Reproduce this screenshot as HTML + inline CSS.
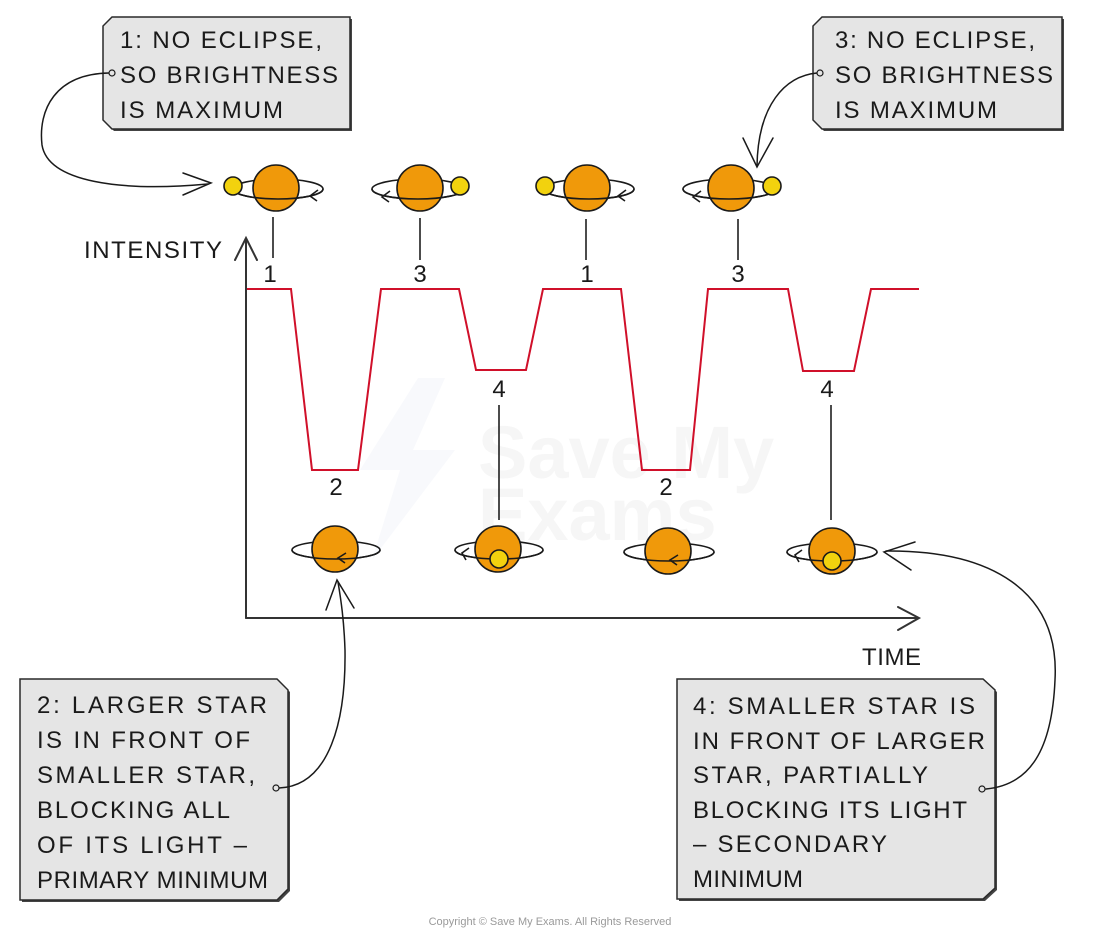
<!DOCTYPE html>
<html><head><meta charset="utf-8"><style>
html,body{margin:0;padding:0;background:#fff;}
svg{display:block;}
text{font-family:"Liberation Sans",sans-serif;fill:#1a1a1a;}
</style></head><body>
<svg width="1100" height="938" viewBox="0 0 1100 938" xmlns="http://www.w3.org/2000/svg">
<!-- watermark -->
<polygon points="418,378 360,470 400,470 372,560 455,450 413,450 445,378" fill="#f8f9fc"/>
<text x="478" y="478" font-size="74" font-weight="bold" style="fill:#f6f6f6">Save My</text>
<text x="478" y="540" font-size="74" font-weight="bold" style="fill:#f6f6f6">Exams</text>

<!-- axes -->
<g stroke="#333" stroke-width="2" fill="none" stroke-linecap="round">
<line x1="246" y1="240" x2="246" y2="618"/>
<polyline points="235,260 246,238 257,260"/>
<line x1="246" y1="618" x2="918" y2="618"/>
<polyline points="898,607 919,618 898,630"/>
</g>
<text x="84" y="258" font-size="24" textLength="138" lengthAdjust="spacing">INTENSITY</text>
<text x="862" y="665" font-size="24" textLength="59" lengthAdjust="spacing">TIME</text>

<!-- light curve -->
<polyline fill="none" stroke="#d0102a" stroke-width="2" points="247,289 291,289 312,470 358,470 381,289 459,289 476,370 526,370 543,289 621,289 642,470 690,470 708,289 788,289 803,371 854,371 871,289 919,289"/>

<!-- connector lines to numbers -->
<g stroke="#111" stroke-width="1.5">
<line x1="273" y1="217" x2="273" y2="258"/>
<line x1="420" y1="218" x2="420" y2="260"/>
<line x1="586" y1="219" x2="586" y2="260"/>
<line x1="738" y1="219" x2="738" y2="260"/>
<line x1="499" y1="405" x2="499" y2="520"/>
<line x1="831" y1="405" x2="831" y2="520"/>
</g>
<g font-size="24" text-anchor="middle">
<text x="270" y="282">1</text>
<text x="420" y="282">3</text>
<text x="587" y="282">1</text>
<text x="738" y="282">3</text>
<text x="336" y="495">2</text>
<text x="499" y="397">4</text>
<text x="666" y="495">2</text>
<text x="827" y="397">4</text>
</g>

<!-- Top row stars -->
<g stroke="#1a1a1a" stroke-width="1.6" fill="none">
<!-- A -->
<ellipse cx="278" cy="189" rx="45" ry="10"/>
<circle cx="276" cy="188" r="23" fill="#f0990a"/>
<path d="M233,189 A45,10 0 0 0 323,189"/>
<circle cx="233" cy="186" r="9" fill="#f2d20e"/>
<polyline points="318,190 310,196 317,201"/>
<!-- B -->
<ellipse cx="418" cy="189" rx="46" ry="10"/>
<circle cx="420" cy="188" r="23" fill="#f0990a"/>
<path d="M372,189 A46,10 0 0 0 464,189"/>
<circle cx="460" cy="186" r="9" fill="#f2d20e"/>
<polyline points="390,191 382,197 389,202"/>
<!-- C -->
<ellipse cx="589" cy="189" rx="45" ry="10"/>
<circle cx="587" cy="188" r="23" fill="#f0990a"/>
<path d="M544,189 A45,10 0 0 0 634,189"/>
<circle cx="545" cy="186" r="9" fill="#f2d20e"/>
<polyline points="626,190 618,196 625,201"/>
<!-- D -->
<ellipse cx="729" cy="189" rx="46" ry="10"/>
<circle cx="731" cy="188" r="23" fill="#f0990a"/>
<path d="M683,189 A46,10 0 0 0 775,189"/>
<circle cx="772" cy="186" r="9" fill="#f2d20e"/>
<polyline points="701,191 693,197 700,202"/>

<!-- Bottom row -->
<!-- E -->
<ellipse cx="336" cy="550" rx="44" ry="9"/>
<circle cx="335" cy="549" r="23" fill="#f0990a"/>
<path d="M292,550 A44,9 0 0 0 380,550"/>
<polyline points="346,553 338,558 345,563"/>
<!-- F -->
<ellipse cx="499" cy="550" rx="44" ry="9"/>
<circle cx="498" cy="549" r="23" fill="#f0990a"/>
<path d="M455,550 A44,9 0 0 0 543,550"/>
<circle cx="499" cy="559" r="9" fill="#f2d20e"/>
<polyline points="469,548 462,553 466,560"/>
<!-- G -->
<ellipse cx="669" cy="552" rx="45" ry="9"/>
<circle cx="668" cy="551" r="23" fill="#f0990a"/>
<path d="M624,552 A45,9 0 0 0 714,552"/>
<polyline points="678,555 670,560 677,565"/>
<!-- H -->
<ellipse cx="832" cy="552" rx="45" ry="9"/>
<circle cx="832" cy="551" r="23" fill="#f0990a"/>
<path d="M787,552 A45,9 0 0 0 877,552"/>
<circle cx="832" cy="561" r="9" fill="#f2d20e"/>
<polyline points="802,550 795,555 799,562"/>
</g>

<!-- Callout boxes -->
<g stroke="#2a2a2a" stroke-width="1.5" fill="#e5e5e5">
<polygon points="114,19 352,19 352,131 114,131 105,122 105,28" fill="#444" stroke="none"/>
<polygon points="112,17 350,17 350,129 112,129 103,120 103,26"/>
<polygon points="824,19 1064,19 1064,131 824,131 815,122 815,28" fill="#444" stroke="none"/>
<polygon points="822,17 1062,17 1062,129 822,129 813,120 813,26"/>
<polygon points="22,681 279,681 290,692 290,891 279,902 22,902" fill="#444" stroke="none"/>
<polygon points="20,679 277,679 288,690 288,889 277,900 20,900"/>
<polygon points="679,681 985,681 997,692 997,890 985,901 679,901" fill="#444" stroke="none"/>
<polygon points="677,679 983,679 995,690 995,888 983,899 677,899"/>
</g>

<g font-size="24">
<text x="120" y="48" textLength="202" lengthAdjust="spacing">1: NO ECLIPSE,</text>
<text x="120" y="83" textLength="218" lengthAdjust="spacing">SO BRIGHTNESS</text>
<text x="120" y="118" textLength="163" lengthAdjust="spacing">IS MAXIMUM</text>

<text x="835" y="48" textLength="200" lengthAdjust="spacing">3: NO ECLIPSE,</text>
<text x="835" y="83" textLength="218" lengthAdjust="spacing">SO BRIGHTNESS</text>
<text x="835" y="118" textLength="162" lengthAdjust="spacing">IS MAXIMUM</text>

<text x="37" y="713" textLength="230" lengthAdjust="spacing">2: LARGER STAR</text>
<text x="37" y="748" textLength="213" lengthAdjust="spacing">IS IN FRONT OF</text>
<text x="37" y="783" textLength="218" lengthAdjust="spacing">SMALLER STAR,</text>
<text x="37" y="818" textLength="193" lengthAdjust="spacing">BLOCKING ALL</text>
<text x="37" y="853" textLength="210" lengthAdjust="spacing">OF ITS LIGHT –</text>
<text x="37" y="888" textLength="231" lengthAdjust="spacing">PRIMARY MINIMUM</text>

<text x="693" y="714" textLength="282" lengthAdjust="spacing">4: SMALLER STAR IS</text>
<text x="693" y="749" textLength="292" lengthAdjust="spacing">IN FRONT OF LARGER</text>
<text x="693" y="783" textLength="235" lengthAdjust="spacing">STAR, PARTIALLY</text>
<text x="693" y="818" textLength="274" lengthAdjust="spacing">BLOCKING ITS LIGHT</text>
<text x="693" y="852" textLength="194" lengthAdjust="spacing">– SECONDARY</text>
<text x="693" y="887" textLength="110" lengthAdjust="spacing">MINIMUM</text>
</g>

<!-- connectors -->
<g stroke="#1a1a1a" stroke-width="1.5" fill="none" stroke-linecap="round">
<path d="M109,73 C55,74 38,110 42,145 C48,182 120,192 208,184"/>
<polyline points="183,173 211,183 183,195"/>
<path d="M817,73 C785,76 758,105 757,166"/>
<polyline points="743,138 757,167 773,138"/>
<path d="M279,788 C330,786 346,720 345,650 C344,620 341,600 338,582"/>
<polyline points="326,610 337,580 354,608"/>
<path d="M986,789 C1030,785 1052,750 1055,680 C1060,590 990,550 886,551"/>
<polyline points="915,542 884,552 911,570"/>
</g>
<g stroke="#1a1a1a" stroke-width="1.2" fill="#e5e5e5">
<circle cx="112" cy="73" r="3"/>
<circle cx="820" cy="73" r="3"/>
<circle cx="276" cy="788" r="3"/>
<circle cx="982" cy="789" r="3"/>
</g>

<text x="550" y="925" font-size="11" text-anchor="middle" style="fill:#9a9a9a">Copyright © Save My Exams. All Rights Reserved</text>
</svg>
</body></html>
